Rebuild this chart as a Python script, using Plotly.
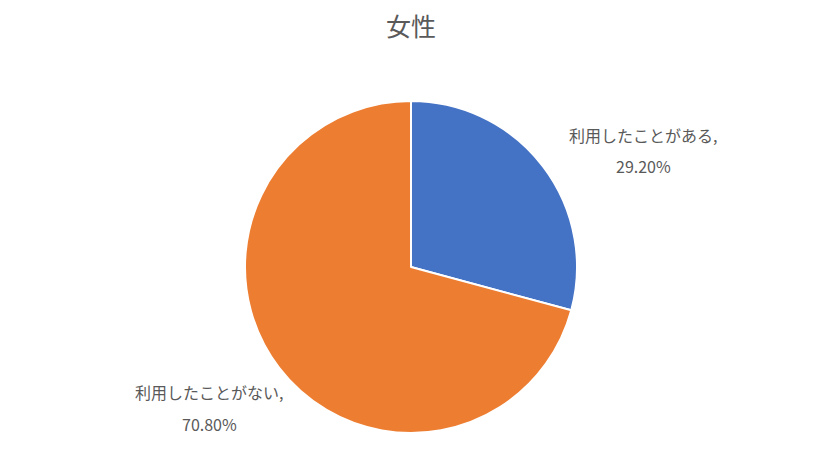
import plotly.graph_objects as go

title = "女性"
categories = ["利用したことがある", "利用したことがない"]
values = [29.20, 70.80]
colors = ["#4472C4", "#ED7D31"]

FONT = "Noto Sans CJK JP"
W, H = 821, 466
OFF = 8  # page offset of the plot div

def px(x):
    return (x - OFF) / W

def py(y):
    return (H - (y - OFF)) / H

fig = go.Figure(go.Pie(
    labels=categories,
    values=values,
    sort=False,
    direction="clockwise",
    rotation=0,
    marker=dict(colors=colors, line=dict(color="white", width=2)),
    textinfo="none",
    hoverinfo="label+percent",
    showlegend=False,
    domain=dict(x=[px(245), px(577)], y=[py(433), py(101)]),
))

# (x center, y of name line, y of value line) in window pixels
label_pos = [(643, 135, 166), (209, 392, 424)]
annotations = []
for cat, val, (ax, y1, y2) in zip(categories, values, label_pos):
    for txt, yy in ((f"{cat},", y1), (f"{val:.2f}%", y2)):
        annotations.append(dict(
            x=px(ax), y=py(yy), xref="paper", yref="paper",
            xanchor="center", yanchor="middle",
            text=txt, showarrow=False, align="center",
            font=dict(family=FONT, size=16, color="#595959"),
        ))

fig.update_layout(
    width=W, height=H,
    margin=dict(l=0, r=0, t=0, b=0),
    paper_bgcolor="white", plot_bgcolor="white",
    title=dict(text=title, x=px(411), xanchor="center", y=py(27), yanchor="middle",
               font=dict(family=FONT, size=25, color="#595959")),
    annotations=annotations,
)

fig.write_html("out.html")
